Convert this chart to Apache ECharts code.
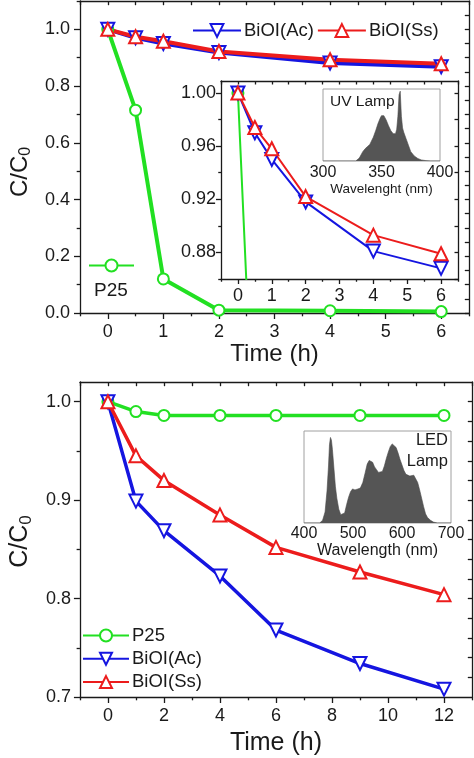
<!DOCTYPE html>
<html>
<head>
<meta charset="utf-8">
<script src="https://cdn.jsdelivr.net/npm/echarts@6/dist/echarts.min.js"></script>
<style>
  html, body { margin: 0; padding: 0; background: #fff; }
  #chart { width: 474px; height: 758px; }
</style>
</head>
<body>
<div id="chart"></div>
<script>
// UV lamp run (top panel), time in h, C/C0
const uvTime = [0, 0.5, 1, 2, 4, 6];
const uvP25 = [1.0, 0.715, 0.12, 0.01, 0.008, 0.005];
const uvAc = [1.0, 0.970, 0.950, 0.918, 0.881, 0.868];
const uvSs = [1.0, 0.974, 0.958, 0.922, 0.893, 0.879];

// LED lamp run (bottom panel)
const ledTime = [0, 1, 2, 4, 6, 9, 12];
const ledP25 = [1.0, 0.990, 0.986, 0.986, 0.986, 0.986, 0.986];
const ledAc = [1.0, 0.899, 0.869, 0.823, 0.768, 0.734, 0.708];
const ledSs = [1.0, 0.945, 0.920, 0.885, 0.852, 0.827, 0.804];

// lamp emission spectra, relative intensity
const uvWave = [300, 328, 331, 334, 336, 338, 340, 343, 345, 347, 349, 350, 352, 354, 356, 358, 360, 362, 363, 364,
  365, 366, 367, 368, 369, 371, 373, 375, 378, 381, 384, 388, 392, 400];
const uvInt = [0, 0, 0.04, 0.13, 0.17, 0.2, 0.23, 0.33, 0.42, 0.52, 0.6, 0.63, 0.63, 0.57, 0.49, 0.42, 0.38, 0.38, 0.44, 0.62,
  0.92, 0.97, 0.62, 0.46, 0.40, 0.31, 0.22, 0.13, 0.07, 0.035, 0.015, 0.005, 0, 0];
const ledWave = [400, 432, 438, 443, 447, 450, 452, 454, 456, 458, 461, 464, 467, 471, 475, 479, 483, 487, 491, 495,
  499, 504, 510, 515, 520, 525, 529, 533, 536, 540, 544, 548, 552, 556, 560, 564, 568, 572, 576, 580,
  584, 588, 592, 596, 600, 604, 608, 612, 616, 620, 624, 628, 632, 636, 640, 644, 648, 652, 658, 664, 672, 700];
const ledInt = [0, 0, 0.03, 0.12, 0.35, 0.62, 0.85, 0.93, 0.9, 0.8, 0.6, 0.4, 0.27, 0.15, 0.09, 0.07, 0.11, 0.2, 0.28, 0.34,
  0.37, 0.36, 0.37, 0.38, 0.44, 0.55, 0.64, 0.68, 0.7, 0.66, 0.61, 0.58, 0.55, 0.53, 0.56, 0.62, 0.7, 0.77, 0.83, 0.86,
  0.85, 0.82, 0.76, 0.69, 0.63, 0.57, 0.53, 0.51, 0.51, 0.53, 0.52, 0.5, 0.44, 0.36, 0.27, 0.18, 0.1, 0.06, 0.03, 0.01, 0, 0];

// tick labels
const topXTicks = [0, 1, 2, 3, 4, 5, 6];
const topYTicks = [0, 0.2, 0.4, 0.6, 0.8, 1.0];
const topRightTicks = [0, 0.05, 0.1, 0.15, 0.2, 0.25, 0.3, 0.35, 0.4, 0.45, 0.5, 0.55, 0.6, 0.65, 0.7, 0.75, 0.8, 0.85, 0.9, 0.95, 1.0, 1.05];
const insetXTicks = [0, 1, 2, 3, 4, 5, 6];
const insetYTicks = [0.88, 0.92, 0.96, 1.00];
const botXTicks = [0, 2, 4, 6, 8, 10, 12];
const botYTicks = [0.7, 0.8, 0.9, 1.0];
const botRightTicks = [0.72, 0.74, 0.76, 0.78, 0.8, 0.82, 0.84, 0.86, 0.88, 0.9, 0.92, 0.94, 0.96, 0.98, 1.0];
const uvWaveTicks = [300, 350, 400];
const ledWaveTicks = [400, 500, 600, 700];

const FONT = "'Liberation Sans', Arial, sans-serif";
const INK = '#1a1a1a';
const GREEN = '#22e022';
const BLUE = '#1515e0';
const RED = '#ec1c1c';

const zip = (xs, ys) => xs.map((x, i) => [x, ys[i]]);

// half-step ticks between (and around) the labelled ones
function minorTicks(major, min, max) {
  const step = major[1] - major[0];
  const out = [];
  for (let v = major[0] - step / 2; v <= max + 1e-9; v += step) {
    if (v >= min - 1e-9) out.push(+v.toFixed(4));
  }
  return out;
}

const xAxis = [];
const yAxis = [];

// Origin-style box: labelled left/bottom, mirrored ticks on top/right
function addFrame(grid, c) {
  const lineStyle = { color: INK, width: 1.3 };
  const shown = { onZero: false, lineStyle };
  const hidden = { show: false, onZero: false };
  const base = { gridIndex: grid, type: 'value', splitLine: { show: false } };
  const label = (ticks, fmt, margin) => ({
    customValues: ticks, fontSize: c.font, fontFamily: FONT, color: INK, margin, formatter: fmt,
  });
  const xb = { ...base, min: c.xMin, max: c.xMax };
  const yb = { ...base, min: c.yMin, max: c.yMax };
  const xMinor = minorTicks(c.xTicks, c.xMin, c.xMax);
  const yMinor = minorTicks(c.yTicks, c.yMin, c.yMax);

  const xi = xAxis.length;
  xAxis.push(
    {
      ...xb, position: 'bottom', axisLine: shown,
      axisTick: { customValues: c.xTicks, length: c.tick, lineStyle },
      axisLabel: label(c.xTicks, (v) => String(v), c.xMargin),
      name: c.xName, nameLocation: 'middle', nameGap: c.xNameGap,
      nameTextStyle: { fontSize: c.nameFont, fontFamily: FONT, color: INK },
    },
    {
      ...xb, position: 'bottom', axisLine: hidden,
      axisTick: { customValues: xMinor, length: c.tick * 0.55, lineStyle }, axisLabel: { show: false },
    },
    {
      ...xb, position: 'top', axisLine: shown,
      axisTick: { customValues: c.xTicks.concat(xMinor), inside: true, length: c.tick * 0.7, lineStyle },
      axisLabel: { show: false },
    },
  );

  const yi = yAxis.length;
  yAxis.push(
    {
      ...yb, position: 'left', axisLine: shown,
      axisTick: { customValues: c.yTicks, length: c.tick, lineStyle },
      axisLabel: label(c.yTicks, c.yFmt, c.yMargin),
      name: c.yName, nameLocation: 'middle', nameGap: c.yNameGap,
      nameTextStyle: {
        fontSize: c.nameFont, fontFamily: FONT, color: INK, padding: c.yNamePad || 0,
        rich: { s: { fontSize: Math.round(c.nameFont * 0.68), fontFamily: FONT, color: INK, padding: [12, 0, 0, 0] } },
      },
    },
    {
      ...yb, position: 'left', axisLine: hidden,
      axisTick: { customValues: yMinor, length: c.tick * 0.55, lineStyle }, axisLabel: { show: false },
    },
    {
      ...yb, position: 'right', axisLine: shown,
      axisTick: { customValues: c.rightTicks || c.yTicks.concat(yMinor), inside: true, length: c.tick * 0.7, lineStyle },
      axisLabel: { show: false },
    },
  );
  return { x: xi, y: yi };
}

// small spectrum box: light frame, labels only on x
function addSpectrum(grid, c) {
  const xi = xAxis.length;
  xAxis.push({
    gridIndex: grid, type: 'value', min: c.min, max: c.max, position: 'bottom',
    axisLine: { show: false, onZero: false }, axisTick: { show: false }, splitLine: { show: false },
    axisLabel: { customValues: c.ticks, fontSize: c.font, fontFamily: FONT, color: INK, margin: c.margin },
    name: c.name, nameLocation: 'middle', nameGap: c.nameGap,
    nameTextStyle: { fontSize: c.nameFont, fontFamily: FONT, color: INK },
  });
  const yi = yAxis.length;
  yAxis.push({ gridIndex: grid, type: 'value', min: 0, max: 1, show: false });
  return { x: xi, y: yi };
}

const uvAxes = addFrame(0, {
  xMin: -0.5, xMax: 6.5, xTicks: topXTicks, yMin: 0, yMax: 1.1, yTicks: topYTicks,
  rightTicks: topRightTicks, tick: 6, font: 18, xMargin: 10, yMargin: 10,
  yFmt: (v) => v.toFixed(1), xName: 'Time (h)', xNameGap: 28, nameFont: 24,
  yName: 'C/C{s|0}', yNameGap: 46, yNamePad: [0, 30, 0, 0],
});
const insetAxes = addFrame(1, {
  xMin: -0.5, xMax: 6.5, xTicks: insetXTicks, yMin: 0.86, yMax: 1.009, yTicks: insetYTicks,
  tick: 5, font: 18, xMargin: 8, yMargin: 5, yFmt: (v) => v.toFixed(2),
});
const ledAxes = addFrame(2, {
  xMin: -1, xMax: 13, xTicks: botXTicks, yMin: 0.7, yMax: 1.02, yTicks: botYTicks,
  rightTicks: botRightTicks, tick: 6, font: 18, xMargin: 10, yMargin: 9,
  yFmt: (v) => v.toFixed(1), xName: 'Time (h)', xNameGap: 34, nameFont: 25,
  yName: 'C/C{s|0}', yNameGap: 40, yNamePad: [0, 4, 0, 0],
});
const uvSpecAxes = addSpectrum(3, {
  min: 300, max: 400, ticks: uvWaveTicks, font: 16, margin: 4,
  name: 'Wavelenght (nm)', nameGap: 19, nameFont: 13.5,
});
const ledSpecAxes = addSpectrum(4, {
  min: 400, max: 700, ticks: ledWaveTicks, font: 16, margin: 3,
  name: 'Wavelength (nm)', nameGap: 18, nameFont: 16,
});

function kinetic(name, axes, data, color, symbol, opt) {
  return {
    name, type: 'line', data, xAxisIndex: axes.x, yAxisIndex: axes.y,
    symbol, symbolSize: symbol === 'circle' ? opt.circle : opt.tri,
    symbolRotate: opt.rotate || 0, showAllSymbol: true,
    color,
    lineStyle: { color, width: opt.width },
    itemStyle: { color: '#fff', borderColor: color, borderWidth: opt.border },
    emphasis: { disabled: true },
  };
}

function spectrum(name, axes, data) {
  return {
    name, type: 'line', data, xAxisIndex: axes.x, yAxisIndex: axes.y,
    symbol: 'none', lineStyle: { color: '#4a4a4a', width: 0.6 },
    areaStyle: { color: '#555', opacity: 1 }, emphasis: { disabled: true },
  };
}

const big = { width: 4, circle: 11, tri: 13, border: 2 };
const small = { width: 2, circle: 11, tri: 13, border: 2 };
const mid = { width: 3.5, circle: 11, tri: 13, border: 2 };

const legendText = { fontSize: 18.5, fontFamily: FONT, color: INK, padding: [0, 0, 0, -2] };

const option = {
  animation: false,
  backgroundColor: '#fff',
  grid: [
    { left: 79, top: 1, width: 390, height: 312 },
    { left: 221, top: 81, width: 237, height: 198, show: true, backgroundColor: '#fff', borderWidth: 0 },
    { left: 73, top: 382, width: 399, height: 315 },
    { left: 323, top: 89, width: 117, height: 72, show: true, backgroundColor: '#fff', borderColor: '#a0a0a0', borderWidth: 1 },
    { left: 304, top: 431, width: 147, height: 92, show: true, backgroundColor: '#fff', borderColor: '#a0a0a0', borderWidth: 1 },
  ],
  xAxis,
  yAxis,
  legend: [
    {
      data: ['BiOI(Ac)', 'BiOI(Ss)'], left: 192, top: 21, padding: 0,
      itemWidth: 48, itemHeight: 16, itemGap: 3, selectedMode: false, textStyle: legendText,
    },
    {
      data: ['P25'], left: 88, top: 258, padding: 0, itemWidth: 45, itemHeight: 15, selectedMode: false,
      formatter: () => '',
    },
    {
      data: ['P25', 'BiOI(Ac)', 'BiOI(Ss)'], orient: 'vertical', left: 82, top: 626, padding: 0,
      itemWidth: 46, itemHeight: 15, itemGap: 4.3, selectedMode: false, textStyle: legendText,
    },
  ],
  graphic: [
    { type: 'text', left: 94, top: 281, style: { text: 'P25', font: `19px ${FONT}`, fill: INK } },
    { type: 'text', left: 330, top: 94, z: 10, style: { text: 'UV Lamp', font: `15.5px ${FONT}`, fill: INK } },
    { type: 'text', right: 26, top: 432, z: 10, style: { text: 'LED', font: `16.5px ${FONT}`, fill: INK } },
    { type: 'text', right: 26, top: 453, z: 10, style: { text: 'Lamp', font: `16.5px ${FONT}`, fill: INK } },
  ],
  series: [
    kinetic('P25', uvAxes, zip(uvTime, uvP25), GREEN, 'circle', big),
    kinetic('BiOI(Ac)', uvAxes, zip(uvTime, uvAc), BLUE, 'triangle', { ...big, rotate: 180 }),
    kinetic('BiOI(Ss)', uvAxes, zip(uvTime, uvSs), RED, 'triangle', big),

    kinetic('P25 inset', insetAxes, zip(uvTime, uvP25), GREEN, 'circle', small),
    kinetic('BiOI(Ac) inset', insetAxes, zip(uvTime, uvAc), BLUE, 'triangle', { ...small, rotate: 180 }),
    kinetic('BiOI(Ss) inset', insetAxes, zip(uvTime, uvSs), RED, 'triangle', small),

    kinetic('P25 led', ledAxes, zip(ledTime, ledP25), GREEN, 'circle', mid),
    kinetic('BiOI(Ac) led', ledAxes, zip(ledTime, ledAc), BLUE, 'triangle', { ...mid, rotate: 180 }),
    kinetic('BiOI(Ss) led', ledAxes, zip(ledTime, ledSs), RED, 'triangle', mid),

    spectrum('UV lamp', uvSpecAxes, zip(uvWave, uvInt)),
    spectrum('LED lamp', ledSpecAxes, zip(ledWave, ledInt)),
  ],
};

const chart = echarts.init(document.getElementById('chart'));
chart.setOption(option);
</script>
</body>
</html>
